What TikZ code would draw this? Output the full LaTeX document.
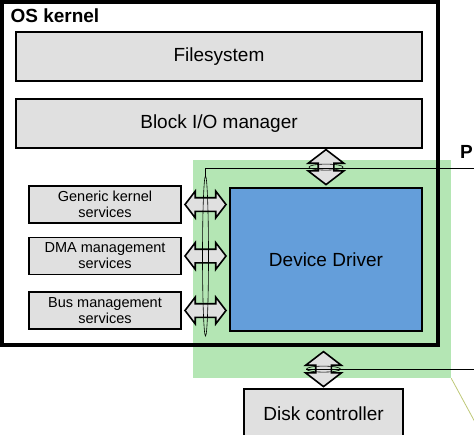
\documentclass[tikz,border=0pt]{standalone}
\usepackage{fontspec}
\setmainfont{Liberation Sans}
\usetikzlibrary{calc, positioning, shapes.arrows, shapes.geometric}
\definecolor{boxgray}{RGB}{224,224,224}
\definecolor{driverblue}{RGB}{100,158,218}
\definecolor{zonegreen}{RGB}{180,230,180}
\definecolor{calloutline}{RGB}{190,200,120}
\tikzset{
    layerbox/.style={draw, line width=1.8pt, fill=boxgray, inner sep=0pt,
        font=\fontsize{19}{20}\selectfont},
    servicebox/.style={layerbox, align=center, minimum width=152pt, minimum height=37pt,
        font=\fontsize{14.5}{16}\selectfont},
    hdarrow/.style={double arrow, draw, line width=1.6pt, fill=boxgray,
        inner xsep=0pt, inner ysep=6pt, minimum width=0pt, minimum height=41pt,
        double arrow head extend=6.5pt, double arrow tip angle=105},
    vdarrow/.style={hdarrow, rotate=90, inner ysep=7pt, minimum height=35pt,
        double arrow head extend=10pt},
    lens/.style={draw, ellipse, line width=0.6pt, inner sep=0pt},
    leader/.style={line width=0.8pt}
}
\begin{document}
\begin{tikzpicture}[x=1pt, y=-1pt]
    \useasboundingbox (0,0) rectangle (474,434);
    \clip (0,0) rectangle (474,434);
    % driver zone and kernel frame
    \node[fill=zonegreen, inner sep=0pt, minimum width=258pt, minimum height=218pt] (zone) at (322,269) {};
    \coordinate (calloutend) at (476,424);
    \draw[calloutline, line width=0.8pt] (zone.south east) -- (calloutend);
    \node[draw, line width=3.5pt, inner sep=0pt, minimum width=436pt, minimum height=343pt] (kernel) at (220,173.5) {};
    \node[anchor=base west, font=\bfseries\fontsize{19}{21}\selectfont] (kernellabel) at (7,22) {OS kernel};
    \node[anchor=base west, inner sep=0pt, font=\bfseries\fontsize{19}{21}\selectfont] (plabel) at (460,158) {P};
    % layers
    \node[layerbox, minimum width=406pt, minimum height=49pt] (filesystem) at (219,56.5) {Filesystem};
    \node[layerbox, minimum width=406pt, minimum height=49pt] (blockio) at (219,123.5) {Block I/O manager};
    \node[servicebox] (generic) at (105,204.5) {Generic kernel\\services};
    \node[servicebox] (dma) at (105,256) {DMA management\\services};
    \node[servicebox] (bus) at (105,310.5) {Bus management\\services};
    \node[layerbox, fill=driverblue, minimum width=192pt, minimum height=143pt] (driver) at (326,259.5) {Device Driver};
    \node[layerbox, minimum width=159pt, minimum height=49pt] (disk) at (323.5,413.5) {Disk controller};
    % interfaces
    \node[vdarrow] (toparrow) at ($(driver.north)+(0,-20)$) {};
    \node[vdarrow] (bottomarrow) at ($(disk.north)+(0,-19)$) {};
    \foreach \s in {generic, dma, bus}{
    \node[hdarrow] (\s arrow) at ($(\s.east)!0.5!(\s.east -| driver.west)$) {};}
    % leader lines
    \node[lens, minimum width=6pt, minimum height=160pt] (buslens) at (dmaarrow) {};
    \node[lens, minimum width=34pt, minimum height=6pt] (toplens) at (toparrow) {};
    \node[lens, minimum width=34pt, minimum height=6pt] (bottomlens) at (bottomarrow) {};
    \coordinate (topend) at (476,168);
    \coordinate (bottomend) at (476,369);
    \draw[leader] (buslens.north) |- (topend);
    \draw[leader] (bottomlens.west) -- (bottomlens.west -| bottomend);
\end{tikzpicture}
\end{document}
